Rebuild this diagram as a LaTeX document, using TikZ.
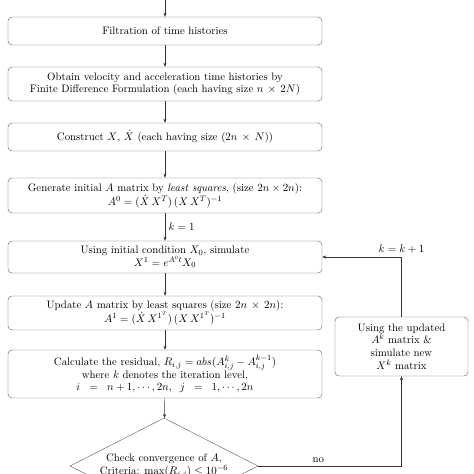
\documentclass[tikz,border=0pt]{standalone}
\usetikzlibrary{shapes.geometric,arrows.meta}
\begin{document}
\begin{tikzpicture}[x=1pt,y=-1pt,
  txt/.style={font=\fontsize{10.8}{12.6}\selectfont},
  box/.style={txt,draw=black!65,rounded corners=4pt,minimum width=314pt,align=center,inner sep=1pt},
  rbox/.style={txt,draw=black!65,rounded corners=4pt,minimum width=133pt,minimum height=59pt,align=center,inner sep=1pt},
  dec/.style={txt,draw=black!65,diamond,aspect=1.96,minimum width=188pt,minimum height=96pt,align=center,inner sep=0pt},
  arr/.style={draw=black!80,-{Stealth[length=4pt,width=3pt]}},
  ln/.style={draw=black!65}]
\useasboundingbox (0,0) rectangle (474,474);
\coordinate (top) at (165,0);
\node[box,minimum height=28pt] (b1) at (165,31) {Filtration of time histories};
\node[box,minimum height=34pt] (b2) at (165,84) {Obtain velocity and acceleration time histories by\\ Finite Difference Formulation (each having size $n\,\times\,2N$)};
\node[box,minimum height=28pt] (b3) at (165,137) {Construct $X$, $\dot X$ (each having size $(2n\,\times\,N)$)};
\node[box,minimum height=35pt] (b4) at (165,195.5) {Generate initial $A$ matrix by \textit{least squares}, (size $2n\times2n$):\\ $A^0 = (\dot X\,X^T)\,(X\,X^T)^{-1}$};
\node[box,minimum height=32pt] (b5) at (165,257) {Using initial condition $X_0$, simulate\\ $X^1 = e^{A^0 t}X_0$};
\node[box,minimum height=34pt] (b6) at (165,313) {Update $A$ matrix by least squares (size $2n\,\times\,2n$):\\ $A^1 = (\dot X\,X^{1^T})\,(X\,X^{1^T})^{-1}$};
\node[box,minimum height=48pt] (b7) at (165,374) {Calculate the residual, $R_{i,j} = abs(A^k_{i,j} - A^{k-1}_{i,j})$\\ where $k$ denotes the iteration level,\\ $i \;\;=\;\; n+1,\cdots,2n,\;\; j \;\;=\;\; 1,\cdots,2n$};
\node[dec] (d) at (164,466) {Check convergence of $A$,\\ Criteria: $\max(R_{i,j}) \le 10^{-6}$};
\node[rbox] (r) at (401.5,346.5) {Using the updated\\ $A^k$ matrix \&\\ simulate new\\ $X^k$ matrix};
\draw[arr] (top) -- (b1);
\draw[arr] (b1) -- (b2);
\draw[arr] (b2) -- (b3);
\draw[arr] (b3) -- (b4);
\draw[arr] (b4) -- node[right,txt]{$k=1$} (b5);
\draw[arr] (b5) -- (b6);
\draw[arr] (b6) -- (b7);
\draw[arr] (b7) -- (d);
\draw[arr] (d.east) -- node[above,pos=0.42,txt]{no} (d.east -| r.south) -- (r.south);
\draw[arr] (r.north) -- (r.north |- b5.east) node[above,pos=1,anchor=south,txt]{$k=k+1$} -- (b5.east);
\end{tikzpicture}
\end{document}
